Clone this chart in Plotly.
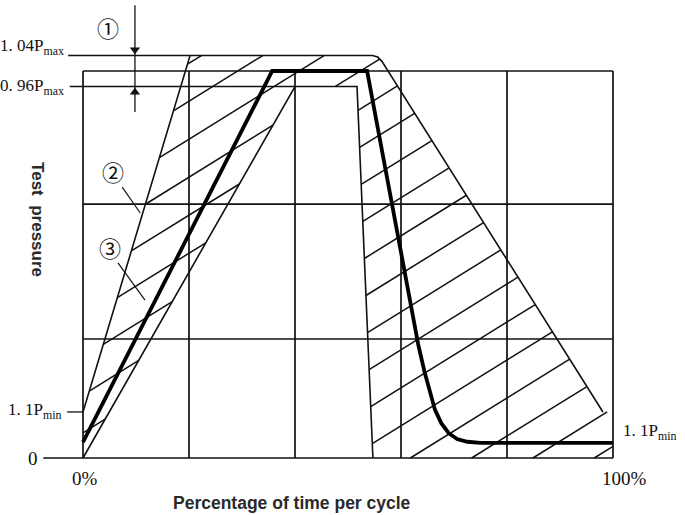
import plotly.graph_objects as go

# ---------------- data (x: % of cycle time, y: fraction of Pmax) ----------------
grid_x = [0, 20, 40, 60, 80, 100]
grid_y = [0, 0.3075, 0.656, 1.0]

# bold test-pressure curve
curve_x = [0, 35.7, 53.6, 62.0, 63.3, 64.4, 65.4, 66.4, 67.6, 69.0, 70.6, 72.5, 75.0, 100]
curve_y = [0.041, 1.0, 1.0, 0.38, 0.29, 0.225, 0.17, 0.125, 0.09, 0.064, 0.049, 0.042, 0.039, 0.039]

# outer tolerance boundary (line 2 + 1.04Pmax + falling edge)
outer_x = [0, 20.2, 54.6, 55.6, 56.4, 98.1]
outer_y = [0.119, 1.04, 1.04, 1.036, 1.025, 0.119]

# inner tolerance boundary (line 3 + 0.96Pmax + falling edge)
inner_x = [0, 40.0, 51.7, 54.7]
inner_y = [0, 0.96, 0.96, 0.0]

# level lines extended to their labels
lvl_104_x = [-2.8, 20.2]
lvl_104_y = [1.04, 1.04]
lvl_096_x = [-2.5, 40.0]
lvl_096_y = [0.96, 0.96]
lvl_zero_x = [-7.5, 0]
lvl_zero_y = [0, 0]
lvl_min_x = [-3.0, 0]
lvl_min_y = [0.119, 0.119]

# marker (1) arrow: stem and the two heads (pointing at 1.04Pmax and 0.96Pmax)
arrow_x = [9.8, 9.8]
arrow_y = [1.17, 0.894]
head_y = [1.055, 0.945]
head_sym = ["triangle-down", "triangle-up"]
# leader lines for (2) and (3)
lead2_x = [7.4, 10.8]
lead2_y = [0.700, 0.633]
lead3_x = [6.6, 11.7]
lead3_y = [0.504, 0.408]

# ---------------- pixel mapping helpers ----------------
X0, XS = 83.0, 5.3      # px at x=0, px per %
Y0, YS = 458.0, 387.0   # px at y=0, px per Pmax
W, H = 685, 515

def to_px(x, y):
    return X0 + XS * x, Y0 - YS * y

def to_data(px, py):
    return (px - X0) / XS, (Y0 - py) / YS

# hatched tolerance region polygon
poly_x = outer_x + [100, 100] + inner_x[::-1]
poly_y = outer_y + [0.119, 0.0] + inner_y[::-1]

def hatch(px_list, py_list, slope=-0.62, step=38.0, c0=636.4):
    P = [to_px(a, b) for a, b in zip(px_list, py_list)]
    n = len(P)
    cs = [p[1] - slope * p[0] for p in P]
    cmin, cmax = min(cs), max(cs)
    k0 = int((cmin - c0) // step) - 1
    k1 = int((cmax - c0) // step) + 2
    hx, hy = [], []
    for k in range(k0, k1):
        c = c0 + k * step
        xs = []
        for i in range(n):
            (x1, y1), (x2, y2) = P[i], P[(i + 1) % n]
            f1 = y1 - slope * x1 - c
            f2 = y2 - slope * x2 - c
            if (f1 > 0) != (f2 > 0):
                t = f1 / (f1 - f2)
                xs.append(x1 + t * (x2 - x1))
        xs.sort()
        for j in range(0, len(xs) - 1, 2):
            for xp in (xs[j], xs[j + 1]):
                dx, dy = to_data(xp, slope * xp + c)
                hx.append(dx)
                hy.append(dy)
            hx.append(None)
            hy.append(None)
    return hx, hy

hx, hy = hatch(poly_x, poly_y)

INK = "#111111"
fig = go.Figure()

def seg(x, y, w=1.5, color=INK):
    fig.add_trace(go.Scatter(x=x, y=y, mode="lines", line=dict(color=color, width=w),
                             hoverinfo="skip", showlegend=False, cliponaxis=False))

# grid / frame
for gx in grid_x:
    seg([gx, gx], [0, 1.0], 1.7)
for gy in grid_y:
    seg([0, 100], [gy, gy], 1.7)

# hatching
seg(hx, hy, 1.5)
# boundaries
seg(outer_x, outer_y, 1.6)
seg(inner_x, inner_y, 1.6)
seg(lvl_104_x, lvl_104_y, 1.6)
seg(lvl_096_x, lvl_096_y, 1.6)
seg(lvl_zero_x, lvl_zero_y, 1.7)
seg(lvl_min_x, lvl_min_y, 1.3)
seg(arrow_x, arrow_y, 1.3)
seg(lead2_x, lead2_y, 1.2)
seg(lead3_x, lead3_y, 1.2)

# arrow heads
fig.add_trace(go.Scatter(x=[arrow_x[0]] * 2, y=head_y, mode="markers",
                         marker=dict(symbol=head_sym, size=9, color=INK, line=dict(width=0)),
                         hoverinfo="skip", showlegend=False, cliponaxis=False))

# bold test curve
fig.add_trace(go.Scatter(x=curve_x, y=curve_y, mode="lines",
                         line=dict(color="#000", width=3.8),
                         hoverinfo="skip", showlegend=False))

SERIF = "Liberation Serif"
anns = []

def txt(x, y, s, size=16, xanchor="center", font=SERIF, color="#111", angle=0):
    anns.append(dict(x=x, y=y, text=s, showarrow=False, xanchor=xanchor, yanchor="middle",
                     textangle=angle, font=dict(family=font, size=size, color=color)))

txt(-3.3, 1.062, "1. 04P<sub>max</sub>", 17, "right")
txt(-3.3, 0.958, "0. 96P<sub>max</sub>", 17, "right")
txt(-3.6, 0.122, "1. 1P<sub>min</sub>", 17, "right")
txt(101.6, 0.068, "1. 1P<sub>min</sub>", 17, "left")
txt(-9.4, 0.0, "0", 19)
txt(0.4, -0.052, "0%", 19)
txt(102.1, -0.052, "100%", 19)
txt(4.7, 1.114, "①", 22, font="Noto Sans CJK JP")
txt(5.7, 0.742, "②", 22, font="Noto Sans CJK JP")
txt(5.1, 0.545, "③", 22, font="Noto Sans CJK JP")
txt(-8.5, 0.615, "<b>Test  pressure</b>", 17, font="Liberation Sans", color="#2a2a2a", angle=90)
txt(39.4, -0.116, "<b>Percentage of time per cycle</b>", 17.5, font="Liberation Sans", color="#2a2a2a")

fig.update_layout(
    width=W, height=H, autosize=False,
    margin=dict(l=0, r=0, t=0, b=0, pad=0),
    paper_bgcolor="white", plot_bgcolor="white",
    xaxis=dict(range=[-X0 / XS, (W - X0) / XS], visible=False, fixedrange=True),
    yaxis=dict(range=[-(H - Y0) / YS, Y0 / YS], visible=False, fixedrange=True),
    annotations=anns,
)

fig.write_html("out.html", config={"displayModeBar": False},
               post_script="document.body.style.margin='0px';document.body.style.overflow='hidden';")
